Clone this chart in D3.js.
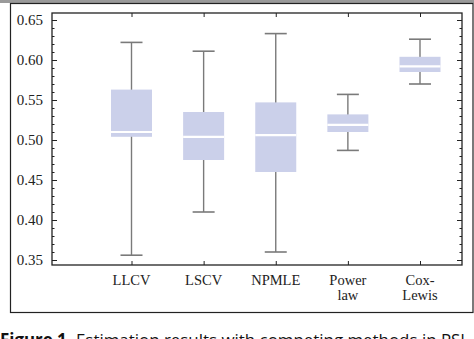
<!DOCTYPE html>
<html>
<head>
<meta charset="utf-8">
<script src="https://cdn.jsdelivr.net/npm/d3@7"></script>
<style>
  body { margin: 0; background: #fff; overflow: hidden; }
  svg { display: block; }
</style>
</head>
<body>
<svg id="chart" width="474" height="339"></svg>
<script>
// box plot data
var methods = [["LLCV"], ["LSCV"], ["NPMLE"], ["Power", "law"], ["Cox-", "Lewis"]];
var whiskerLow  = [0.356, 0.410, 0.360, 0.487, 0.570];
var boxLow      = [0.504, 0.475, 0.460, 0.510, 0.585];
var medians     = [0.510, 0.504, 0.506, 0.519, 0.592];
var boxHigh     = [0.563, 0.535, 0.547, 0.532, 0.604];
var whiskerHigh = [0.622, 0.611, 0.633, 0.557, 0.626];
var yTicks = [0.35, 0.40, 0.45, 0.50, 0.55, 0.60, 0.65];

var boxColor = "#cbd0ea";
var whiskerColor = "#7a7a7a";

var svg = d3.select("#chart");

// plot frame (don't call it "top", that's window.top)
var plotL = 52, plotR = 462, plotT = 13, plotB = 265;

var x = d3.scalePoint()
  .domain(d3.range(methods.length))
  .range([131.5, 420]);

var y = d3.scaleLinear()
  .domain([0.34375, 0.65875])
  .range([plotB, plotT]);

// grey strip at top + outer frame
svg.append("rect").attr("x", 0).attr("y", 0).attr("width", 474).attr("height", 3)
  .attr("fill", "#9a9a9a");
svg.append("rect").attr("x", 10.5).attr("y", 3.5).attr("width", 462.5).attr("height", 309)
  .attr("fill", "none").attr("stroke", "#222").attr("stroke-width", 1.2);

var g = svg.append("g");

// boxes
var box = g.selectAll("g.box").data(methods).enter().append("g").attr("class", "box");

box.append("line")
  .attr("x1", function(d, i) { return x(i); })
  .attr("x2", function(d, i) { return x(i); })
  .attr("y1", function(d, i) { return y(whiskerLow[i]); })
  .attr("y2", function(d, i) { return y(whiskerHigh[i]); })
  .attr("stroke", whiskerColor).attr("stroke-width", 1.4);

[whiskerLow, whiskerHigh].forEach(function(arr) {
  box.append("line")
    .attr("x1", function(d, i) { return x(i) - 11; })
    .attr("x2", function(d, i) { return x(i) + 11; })
    .attr("y1", function(d, i) { return y(arr[i]); })
    .attr("y2", function(d, i) { return y(arr[i]); })
    .attr("stroke", whiskerColor).attr("stroke-width", 1.6);
});

box.append("rect")
  .attr("x", function(d, i) { return x(i) - 20.5; })
  .attr("width", 41)
  .attr("y", function(d, i) { return y(boxHigh[i]); })
  .attr("height", function(d, i) { return y(boxLow[i]) - y(boxHigh[i]); })
  .attr("fill", boxColor);

box.append("line")
  .attr("x1", function(d, i) { return x(i) - 20.5; })
  .attr("x2", function(d, i) { return x(i) + 20.5; })
  .attr("y1", function(d, i) { return y(medians[i]); })
  .attr("y2", function(d, i) { return y(medians[i]); })
  .attr("stroke", "#fff").attr("stroke-width", 2.2);

// axes: ticks point inward, like the original
var font = "'Liberation Serif', 'DejaVu Serif', serif";
var minorTicks = d3.range(35, 66).map(function(v) { return v / 100; });

var yAxis = svg.append("g").attr("transform", "translate(" + plotL + ",0)")
  .call(d3.axisLeft(y).tickValues(yTicks).tickFormat(d3.format(".2f")).tickSize(-5).tickPadding(9));
var yMinor = svg.append("g").attr("transform", "translate(" + plotL + ",0)")
  .call(d3.axisLeft(y).tickValues(minorTicks).tickSize(-2.5).tickFormat(""));
var yRight = svg.append("g").attr("transform", "translate(" + plotR + ",0)")
  .call(d3.axisRight(y).tickValues(yTicks).tickSize(-5).tickFormat(""));
var yRightMinor = svg.append("g").attr("transform", "translate(" + plotR + ",0)")
  .call(d3.axisRight(y).tickValues(minorTicks).tickSize(-2.5).tickFormat(""));

var xAxis = svg.append("g").attr("transform", "translate(0," + plotB + ")")
  .call(d3.axisBottom(x).tickSize(-4).tickFormat(""));
var xTop = svg.append("g").attr("transform", "translate(0," + plotT + ")")
  .call(d3.axisTop(x).tickSize(-4).tickFormat(""));

[yAxis, yMinor, yRight, yRightMinor, xAxis, xTop].forEach(function(a) {
  a.select(".domain").remove();
  a.selectAll(".tick line").attr("stroke", "#222");
});
yAxis.selectAll("text").attr("font-family", font).attr("font-size", 15).attr("fill", "#222");

svg.append("rect").attr("x", plotL).attr("y", plotT).attr("width", plotR - plotL).attr("height", plotB - plotT)
  .attr("fill", "none").attr("stroke", "#222").attr("stroke-width", 1.3);

// category labels
var lab = svg.append("g").selectAll("text").data(methods).enter().append("text")
  .attr("x", function(d, i) { return x(i); })
  .attr("y", 285)
  .attr("text-anchor", "middle")
  .attr("font-family", font).attr("font-size", 14.5).attr("fill", "#222");
lab.selectAll("tspan").data(function(d) { return d; }).enter().append("tspan")
  .attr("x", function() { return d3.select(this.parentNode).attr("x"); })
  .attr("dy", function(d, j) { return j === 0 ? 0 : 15; })
  .text(function(d) { return d; });

// caption, cut off by the bottom edge as in the source
var cap = svg.append("text").attr("x", 0).attr("y", 346)
  .attr("font-family", "'Open Sans', 'DejaVu Sans', sans-serif").attr("font-size", 16.9).attr("fill", "#111");
cap.append("tspan").attr("font-weight", "bold").text("Figure 1.");
cap.append("tspan").text(" Estimation results with competing methods in PSI");
</script>
</body>
</html>
